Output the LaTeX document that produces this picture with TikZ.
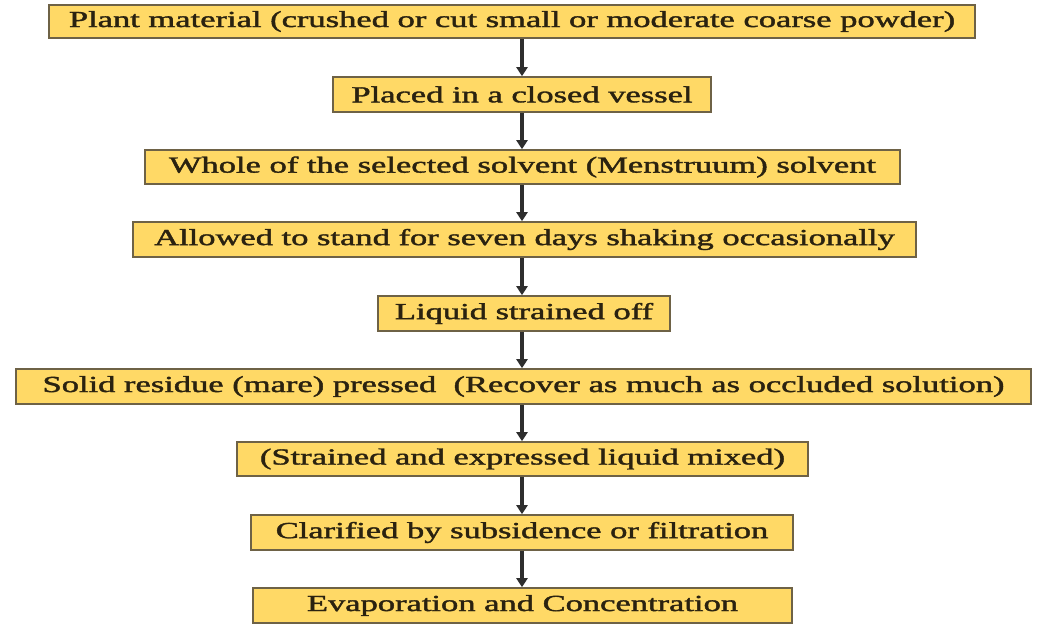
\documentclass[tikz,border=0pt]{standalone}
\usepackage{fontspec}
\setmainfont{Liberation Serif}[FakeBold=1.4]
\usetikzlibrary{arrows.meta}
\definecolor{boxfill}{HTML}{FFD966}
\definecolor{boxline}{HTML}{6E6246}
\definecolor{txt}{HTML}{2A2210}
\definecolor{arr}{HTML}{2E2E2E}
\newcommand{\wide}[1]{\scalebox{1.5}[1]{#1}}
\begin{document}
\begin{tikzpicture}[x=0.5pt,y=-0.5pt,
  stepbox/.style={draw=boxline,line width=0.8pt,fill=boxfill,text=txt,inner sep=0pt,
    font=\fontsize{11.5}{13}\selectfont,anchor=center},
  flow/.style={draw=arr,line width=1.6pt,-{Triangle[length=4.5pt,width=5.5pt]}}]
\useasboundingbox (0,0) rectangle (1038,636);
\node[stepbox,minimum width=463pt,minimum height=16.5pt] (n1) at (512,21.5) {\wide{Plant material (crushed or cut small or moderate coarse powder)}};
\node[stepbox,minimum width=189pt,minimum height=17.5pt] (n2) at (522,94.5) {\wide{Placed in a closed vessel}};
\node[stepbox,minimum width=377.5pt,minimum height=17pt] (n3) at (522.5,167) {\wide{Whole of the selected solvent (Menstruum) solvent}};
\node[stepbox,minimum width=391.5pt,minimum height=17.5pt] (n4) at (524.5,239.5) {\wide{Allowed to stand for seven days shaking occasionally}};
\node[stepbox,minimum width=146pt,minimum height=17.5pt] (n5) at (524,313.5) {\wide{Liquid strained off}};
\node[stepbox,minimum width=507.5pt,minimum height=17.5pt] (n6) at (523.5,386.5) {\wide{Solid residue (mare) pressed\ \ (Recover as much as occluded solution)}};
\node[stepbox,minimum width=285.5pt,minimum height=17pt] (n7) at (522.5,459) {\wide{(Strained and expressed liquid mixed)}};
\node[stepbox,minimum width=271pt,minimum height=17.5pt] (n8) at (522,532.5) {\wide{Clarified by subsidence or filtration}};
\node[stepbox,minimum width=269.5pt,minimum height=17.5pt] (n9) at (522.5,605.5) {\wide{Evaporation and Concentration}};
\draw[flow] (n1.south -| n2.north) -- (n2.north);
\draw[flow] (n2.south) -- (n3.north -| n2.south);
\draw[flow] (n3.south -| n2.south) -- (n4.north -| n2.south);
\draw[flow] (n4.south -| n2.south) -- (n5.north -| n2.south);
\draw[flow] (n5.south -| n2.south) -- (n6.north -| n2.south);
\draw[flow] (n6.south -| n2.south) -- (n7.north -| n2.south);
\draw[flow] (n7.south -| n2.south) -- (n8.north -| n2.south);
\draw[flow] (n8.south -| n2.south) -- (n9.north -| n2.south);
\end{tikzpicture}
\end{document}
